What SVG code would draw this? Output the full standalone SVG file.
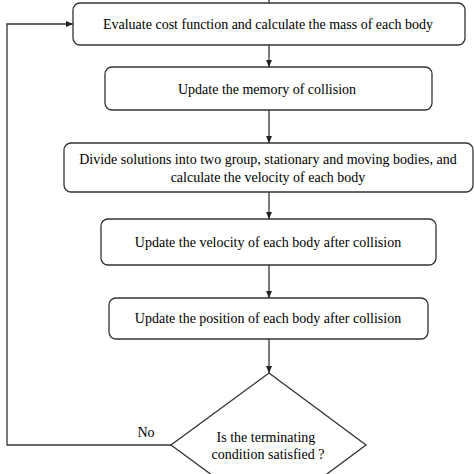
<svg xmlns="http://www.w3.org/2000/svg" width="474" height="474" viewBox="0 0 474 474">
<defs>
<style>
.box{fill:#fff;stroke:#333;stroke-width:1.3}
.t{font-family:"Liberation Serif","Times New Roman",serif;font-size:14px;fill:#000;text-anchor:middle}
.c{fill:none;stroke:#333;stroke-width:1.3}
</style>
<marker id="ah" markerWidth="8" markerHeight="8" refX="7" refY="4" orient="auto" markerUnits="userSpaceOnUse">
<path d="M0,1 L7,4 L0,7 Z" fill="#222"/>
</marker>
</defs>
<rect width="474" height="474" fill="#fff"/>
<g id="connectors">
<path class="c" d="M269,0 V3"/>
<path class="c" d="M269,45 V67" marker-end="url(#ah)"/>
<path class="c" d="M269,110 V143" marker-end="url(#ah)"/>
<path class="c" d="M269,192 V219" marker-end="url(#ah)"/>
<path class="c" d="M269,265 V298" marker-end="url(#ah)"/>
<path class="c" d="M269,339 V373" marker-end="url(#ah)"/>
<path class="c" d="M171,445 H7 V24 H73" marker-end="url(#ah)"/>
<text class="t" x="146" y="437">No</text>
</g>
<g id="n1">
<rect class="box" x="73" y="3" width="392" height="42" rx="7"/>
<text class="t" x="268" y="29">Evaluate cost function and calculate the mass of each body</text>
</g>
<g id="n2">
<rect class="box" x="105" y="67" width="327" height="43" rx="7"/>
<text class="t" x="267" y="94">Update the memory of collision</text>
</g>
<g id="n3">
<rect class="box" x="64" y="143" width="409" height="49" rx="7"/>
<text class="t" x="268" y="164">Divide solutions into two group, stationary and moving bodies, and</text>
<text class="t" x="268" y="182">calculate the velocity of each body</text>
</g>
<g id="n4">
<rect class="box" x="101" y="219" width="335" height="46" rx="7"/>
<text class="t" x="268" y="247">Update the velocity of each body after collision</text>
</g>
<g id="n5">
<rect class="box" x="109" y="298" width="319" height="41" rx="7"/>
<text class="t" x="268" y="323">Update the position of each body after collision</text>
</g>
<g id="n6">
<path class="box" d="M269,373 L366,445 L269,517 L171,445 Z"/>
<text class="t" x="266" y="442">Is the terminating</text>
<text class="t" x="268" y="459">condition satisfied ?</text>
</g>
</svg>
